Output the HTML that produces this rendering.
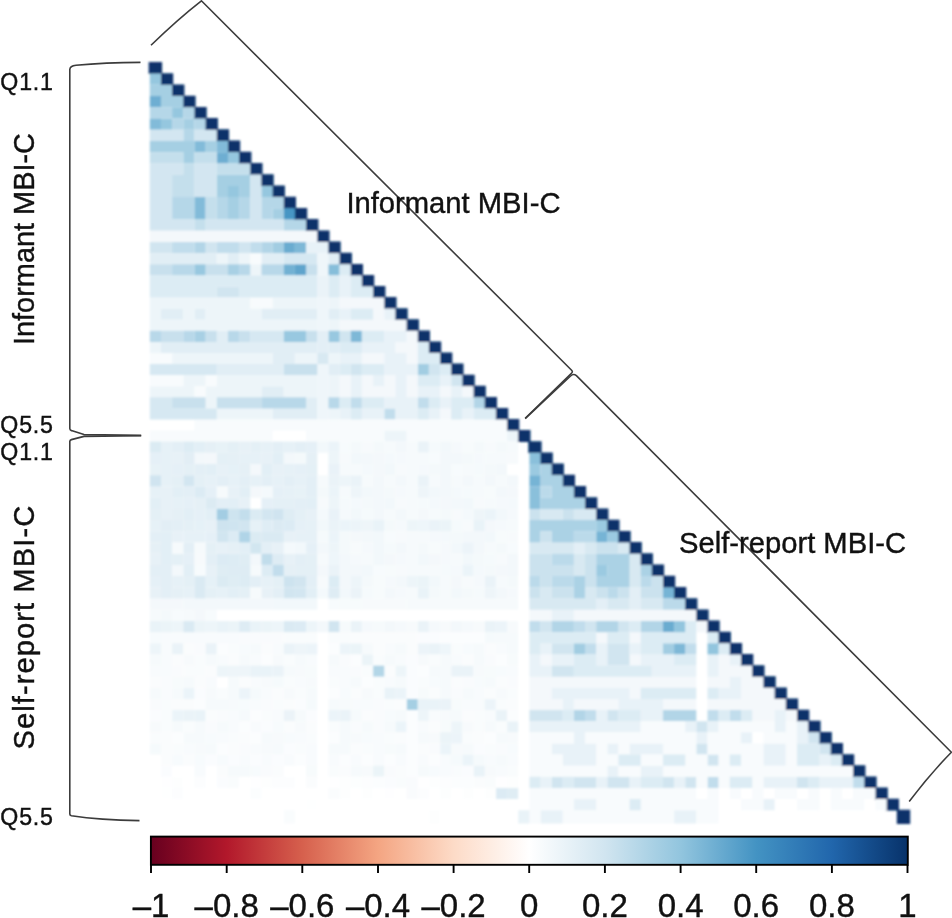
<!DOCTYPE html>
<html><head><meta charset="utf-8"><title>MBI-C correlation matrix</title>
<style>
html,body{margin:0;padding:0;background:#fff;}
body{width:952px;height:918px;overflow:hidden;}
svg{display:block;}
text{font-family:"Liberation Sans",Arial,Helvetica,sans-serif;fill:#111;stroke:#111;stroke-width:0.4px;}
.q{font-size:23.2px;letter-spacing:0.8px;}
.lab{font-size:29.2px;}
.tick{font-size:33px;}
.br{fill:none;stroke:#3c3c3c;stroke-width:1.6;stroke-linejoin:round;stroke-linecap:butt;}
</style></head>
<body>
<svg width="952" height="918" viewBox="0 0 952 918">
<defs>
<linearGradient id="cb" x1="0" x2="1" y1="0" y2="0"><stop offset="0%" stop-color="#67001F"/><stop offset="10%" stop-color="#B2182B"/><stop offset="20%" stop-color="#D6604D"/><stop offset="30%" stop-color="#F4A582"/><stop offset="40%" stop-color="#FDDBC7"/><stop offset="50%" stop-color="#FFFFFF"/><stop offset="60%" stop-color="#D1E5F0"/><stop offset="70%" stop-color="#92C5DE"/><stop offset="80%" stop-color="#4393C3"/><stop offset="90%" stop-color="#2166AC"/><stop offset="100%" stop-color="#07326a"/></linearGradient>
<filter id="soft" x="-2%" y="-2%" width="104%" height="104%"><feGaussianBlur stdDeviation="0.85"/></filter>
</defs>
<rect width="952" height="918" fill="#fff"/>
<g id="heat" filter="url(#soft)">
<path fill="#07326a" d="M148.7 62.0H162.1V74.0H148.7zM159.9 73.2H173.2V85.2H159.9zM171.0 84.4H184.4V96.5H171.0zM182.2 95.7H195.6V107.7H182.2zM193.4 106.9H206.7V118.9H193.4zM204.5 118.1H217.9V130.1H204.5zM215.7 129.3H229.1V141.4H215.7zM226.9 140.6H240.2V152.6H226.9zM238.0 151.8H251.4V163.8H238.0zM249.2 163.0H262.5V175.0H249.2zM260.3 174.2H273.7V186.3H260.3zM271.5 185.5H284.9V197.5H271.5zM282.7 196.7H296.0V208.7H282.7zM293.8 207.9H307.2V219.9H293.8zM305.0 219.1H318.4V231.2H305.0zM316.2 230.4H329.5V242.4H316.2zM327.3 241.6H340.7V253.6H327.3zM338.5 252.8H351.9V264.7H338.5zM349.7 263.9H363.0V275.8H349.7zM360.8 275.0H374.2V286.8H360.8zM372.0 286.0H385.4V297.9H372.0zM383.2 297.1H396.5V309.0H383.2zM394.3 308.2H407.7V320.1H394.3zM405.5 319.3H418.9V331.2H405.5zM416.7 330.4H430.0V342.3H416.7zM427.8 341.5H441.2V353.3H427.8zM439.0 352.5H452.3V364.4H439.0zM450.1 363.6H463.5V375.5H450.1zM461.3 374.7H474.7V386.6H461.3zM472.5 385.8H485.8V397.7H472.5zM483.6 396.9H497.0V408.8H483.6zM494.8 408.0H508.2V419.8H494.8zM506.0 419.0H519.3V430.9H506.0zM517.1 430.1H530.5V442.0H517.1zM528.3 441.2H541.6V453.2H528.3zM539.4 452.4H552.8V464.4H539.4zM550.6 463.6H563.9V475.6H550.6zM561.7 474.8H575.0V486.8H561.7zM572.8 486.0H586.1V498.1H572.8zM583.9 497.3H597.3V509.3H583.9zM595.1 508.5H608.4V520.5H595.1zM606.2 519.7H619.5V531.7H606.2zM617.3 530.9H630.7V542.9H617.3zM628.5 542.1H641.8V554.1H628.5zM639.6 553.3H652.9V565.3H639.6zM650.7 564.5H664.1V576.5H650.7zM661.9 575.7H675.2V587.8H661.9zM673.0 587.0H686.3V599.0H673.0zM684.1 598.2H697.4V610.2H684.1zM695.2 609.4H708.6V621.4H695.2zM706.4 620.6H719.7V632.6H706.4zM717.5 631.8H730.9V643.7H717.5zM728.7 642.9H742.1V654.9H728.7zM739.9 654.1H753.3V666.0H739.9zM751.1 665.2H764.5V677.1H751.1zM762.3 676.3H775.7V688.2H762.3zM773.5 687.4H786.9V699.4H773.5zM784.7 698.6H798.1V710.5H784.7zM795.9 709.7H809.3V721.6H795.9zM807.1 720.8H820.6V732.7H807.1zM818.4 731.9H831.8V743.9H818.4zM829.6 743.1H843.0V755.0H829.6zM840.8 754.2H854.2V766.1H840.8zM852.0 765.3H865.4V777.2H852.0zM863.2 776.4H876.6V788.4H863.2zM874.4 787.6H887.8V799.5H874.4zM885.6 798.7H899.0V810.6H885.6zM896.8 809.8H910.2V824.0H896.8z"/>
<path fill="#95c7df" d="M149.8 73.6H161.0V84.8H149.8zM172.1 107.3H183.3V118.5H172.1zM161.0 118.5H172.1V129.7H161.0zM228.0 152.2H239.1V163.4H228.0zM228.0 185.9H239.1V197.1H228.0zM261.4 185.9H272.6V197.1H261.4z"/>
<path fill="#a5cfe3" d="M149.8 84.8H172.1V96.1H149.8zM161.0 96.1H183.3V107.3H161.0zM183.3 118.5H194.5V129.7H183.3zM149.8 141.0H194.5V152.2H149.8zM205.6 141.0H216.8V152.2H205.6zM183.3 152.2H194.5V163.4H183.3zM216.8 174.6H250.3V185.9H216.8zM216.8 185.9H228.0V197.1H216.8zM239.1 185.9H250.3V197.1H239.1zM228.0 197.1H239.1V208.3H228.0zM228.0 208.3H239.1V219.5H228.0zM272.6 208.3H283.8V219.5H272.6zM406.6 699.0H417.8V710.1H406.6z"/>
<path fill="#6eaed2" d="M149.8 96.1H161.0V107.3H149.8zM216.8 152.2H228.0V163.4H216.8z"/>
<path fill="#b5d7e8" d="M149.8 107.3H172.1V118.5H149.8zM183.3 107.3H194.5V118.5H183.3zM172.1 118.5H183.3V129.7H172.1zM194.5 118.5H205.6V129.7H194.5zM183.3 129.7H194.5V141.0H183.3zM172.1 197.1H194.5V208.3H172.1zM216.8 197.1H228.0V208.3H216.8zM239.1 197.1H250.3V208.3H239.1zM261.4 197.1H283.8V208.3H261.4zM172.1 208.3H194.5V219.5H172.1zM216.8 208.3H228.0V219.5H216.8zM239.1 208.3H250.3V219.5H239.1zM261.4 208.3H272.6V219.5H261.4zM283.8 219.5H306.1V230.8H283.8z"/>
<path fill="#82bbd9" d="M149.8 118.5H161.0V129.7H149.8zM194.5 141.0H205.6V152.2H194.5zM216.8 141.0H228.0V152.2H216.8zM194.5 197.1H205.6V208.3H194.5zM194.5 208.3H205.6V219.5H194.5z"/>
<path fill="#d3e6f1" d="M149.8 129.7H183.3V141.0H149.8zM194.5 129.7H216.8V141.0H194.5zM149.8 163.4H183.3V174.6H149.8zM194.5 163.4H216.8V174.6H194.5zM149.8 174.6H172.1V185.9H149.8zM194.5 174.6H216.8V185.9H194.5zM250.3 174.6H261.4V185.9H250.3zM149.8 185.9H172.1V197.1H149.8zM194.5 185.9H216.8V197.1H194.5zM250.3 185.9H261.4V197.1H250.3zM149.8 197.1H172.1V208.3H149.8zM250.3 197.1H261.4V208.3H250.3zM149.8 208.3H172.1V219.5H149.8zM250.3 208.3H261.4V219.5H250.3zM149.8 219.5H194.5V230.8H149.8zM205.6 219.5H283.8V230.8H205.6zM183.3 475.2H194.5V486.4H183.3zM261.4 508.9H272.6V520.1H261.4zM294.9 587.4H306.1V598.6H294.9z"/>
<path fill="#c4dfec" d="M149.8 152.2H183.3V163.4H149.8zM194.5 152.2H216.8V163.4H194.5zM183.3 163.4H194.5V174.6H183.3zM216.8 163.4H250.3V174.6H216.8zM172.1 174.6H194.5V185.9H172.1zM172.1 185.9H194.5V197.1H172.1zM205.6 197.1H216.8V208.3H205.6zM205.6 208.3H216.8V219.5H205.6zM194.5 219.5H205.6V230.8H194.5z"/>
<path fill="#4796c4" d="M283.8 208.3H294.9V219.5H283.8z"/>
<path fill="#f4f8fb" d="M149.8 230.8H317.3V242.0H149.8zM339.6 297.5H384.3V308.6H339.6zM373.1 308.6H384.3V319.7H373.1zM339.6 319.7H406.6V330.8H339.6zM406.6 330.8H417.8V341.9H406.6zM395.4 341.9H417.8V352.9H395.4zM361.9 352.9H384.3V364.0H361.9zM406.6 352.9H417.8V364.0H406.6zM339.6 375.1H350.8V386.2H339.6zM361.9 375.1H373.1V386.2H361.9zM384.3 375.1H395.4V386.2H384.3zM406.6 375.1H417.8V386.2H406.6zM339.6 386.2H350.8V397.3H339.6zM361.9 386.2H395.4V397.3H361.9zM406.6 386.2H417.8V397.3H406.6zM440.1 386.2H451.2V397.3H440.1zM462.4 386.2H473.6V397.3H462.4zM440.1 408.4H451.2V419.4H440.1zM205.6 452.8H216.8V464.0H205.6zM373.1 452.8H384.3V464.0H373.1zM250.3 464.0H261.4V475.2H250.3zM373.1 464.0H384.3V475.2H373.1zM250.3 486.4H261.4V497.7H250.3zM507.1 486.4H518.2V497.7H507.1zM440.1 497.7H451.2V508.9H440.1zM417.8 508.9H428.9V520.1H417.8zM484.7 520.1H495.9V531.3H484.7zM350.8 531.3H361.9V542.5H350.8zM384.3 553.7H395.4V564.9H384.3zM428.9 553.7H440.1V564.9H428.9zM317.3 564.9H328.4V576.1H317.3zM495.9 564.9H507.1V576.1H495.9zM451.2 576.1H462.4V587.4H451.2zM149.8 598.6H183.3V609.8H149.8zM194.5 609.8H205.6V621.0H194.5zM529.4 609.8H551.7V621.0H529.4zM573.9 609.8H696.3V621.0H573.9zM696.3 621.0H707.5V632.2H696.3zM596.2 632.2H607.3V643.3H596.2zM629.6 632.2H640.7V643.3H629.6zM540.5 654.5H551.7V665.6H540.5zM629.6 654.5H640.7V665.6H629.6zM718.6 654.5H729.8V665.6H718.6zM718.6 665.6H752.2V676.7H718.6zM529.4 676.7H696.3V687.8H529.4zM707.5 676.7H729.8V687.8H707.5zM741.0 676.7H763.4V687.8H741.0zM529.4 687.8H551.7V699.0H529.4zM629.6 687.8H640.7V699.0H629.6zM741.0 687.8H774.6V699.0H741.0zM529.4 699.0H562.8V710.1H529.4zM573.9 699.0H618.4V710.1H573.9zM663.0 699.0H696.3V710.1H663.0zM707.5 699.0H785.8V710.1H707.5zM752.2 710.1H774.6V721.2H752.2zM785.8 710.1H797.0V721.2H785.8z"/>
<path fill="#d1e5f0" d="M149.8 242.0H172.1V253.2H149.8zM205.6 242.0H216.8V253.2H205.6zM239.1 242.0H250.3V253.2H239.1zM216.8 286.4H239.1V297.5H216.8zM339.6 330.8H350.8V341.9H339.6zM350.8 364.0H361.9V375.1H350.8zM428.9 364.0H440.1V375.1H428.9zM451.2 375.1H462.4V386.2H451.2zM239.1 520.1H250.3V531.3H239.1zM216.8 531.3H228.0V542.5H216.8zM283.8 587.4H294.9V598.6H283.8zM328.4 621.0H339.6V632.2H328.4zM540.5 621.0H551.7V632.2H540.5zM585.0 621.0H596.2V632.2H585.0zM618.4 621.0H629.6V632.2H618.4zM551.7 643.3H573.9V654.5H551.7zM607.3 643.3H629.6V654.5H607.3zM607.3 654.5H629.6V665.6H607.3zM551.7 665.6H573.9V676.7H551.7zM529.4 710.1H562.8V721.2H529.4zM607.3 710.1H618.4V721.2H607.3zM696.3 721.2H707.5V732.3H696.3zM808.2 732.3H819.5V743.5H808.2zM696.3 743.5H707.5V754.6H696.3zM819.5 743.5H830.7V754.6H819.5zM707.5 754.6H718.6V765.7H707.5zM551.7 776.8H562.8V788.0H551.7zM573.9 776.8H596.2V788.0H573.9zM607.3 776.8H629.6V788.0H607.3zM663.0 776.8H674.1V788.0H663.0zM685.2 776.8H696.3V788.0H685.2zM797.0 776.8H808.2V788.0H797.0z"/>
<path fill="#c1ddec" d="M172.1 242.0H194.5V253.2H172.1zM216.8 242.0H239.1V253.2H216.8zM250.3 242.0H261.4V253.2H250.3zM350.8 397.3H361.9V408.4H350.8zM417.8 397.3H428.9V408.4H417.8zM384.3 408.4H395.4V419.4H384.3zM529.4 621.0H540.5V632.2H529.4zM573.9 621.0H585.0V632.2H573.9zM585.0 643.3H596.2V654.5H585.0zM685.2 643.3H696.3V654.5H685.2zM585.0 710.1H596.2V721.2H585.0zM707.5 710.1H718.6V721.2H707.5zM729.8 710.1H741.0V721.2H729.8zM707.5 776.8H718.6V788.0H707.5zM853.1 776.8H864.3V788.0H853.1z"/>
<path fill="#b2d5e7" d="M194.5 242.0H205.6V253.2H194.5zM261.4 242.0H272.6V253.2H261.4zM473.6 397.3H484.7V408.4H473.6zM551.7 621.0H573.9V632.2H551.7zM596.2 621.0H618.4V632.2H596.2zM640.7 621.0H663.0V632.2H640.7zM573.9 710.1H585.0V721.2H573.9zM663.0 710.1H696.3V721.2H663.0z"/>
<path fill="#a2cde2" d="M272.6 242.0H283.8V253.2H272.6zM417.8 364.0H428.9V375.1H417.8zM573.9 643.3H585.0V654.5H573.9zM663.0 643.3H674.1V654.5H663.0z"/>
<path fill="#6aacd0" d="M283.8 242.0H294.9V253.2H283.8zM663.0 621.0H674.1V632.2H663.0z"/>
<path fill="#7eb8d7" d="M294.9 242.0H306.1V253.2H294.9zM350.8 330.8H361.9V341.9H350.8zM674.1 643.3H685.2V654.5H674.1z"/>
<path fill="#e8f2f8" d="M306.1 242.0H328.4V253.2H306.1zM339.6 275.4H350.8V286.4H339.6zM339.6 286.4H350.8V297.5H339.6zM339.6 308.6H350.8V319.7H339.6zM384.3 308.6H395.4V319.7H384.3zM384.3 330.8H406.6V341.9H384.3zM361.9 341.9H395.4V352.9H361.9zM339.6 352.9H361.9V364.0H339.6zM384.3 352.9H406.6V364.0H384.3zM384.3 364.0H417.8V375.1H384.3zM350.8 375.1H361.9V386.2H350.8zM373.1 375.1H384.3V386.2H373.1zM395.4 375.1H406.6V386.2H395.4zM440.1 375.1H451.2V386.2H440.1zM350.8 386.2H361.9V397.3H350.8zM395.4 386.2H406.6V397.3H395.4zM417.8 386.2H440.1V397.3H417.8zM451.2 386.2H462.4V397.3H451.2zM384.3 397.3H417.8V408.4H384.3zM440.1 397.3H451.2V408.4H440.1zM339.6 408.4H350.8V419.4H339.6zM361.9 408.4H384.3V419.4H361.9zM395.4 408.4H417.8V419.4H395.4zM428.9 408.4H440.1V419.4H428.9zM462.4 408.4H473.6V419.4H462.4zM551.7 609.8H573.9V621.0H551.7zM540.5 643.3H551.7V654.5H540.5zM596.2 643.3H607.3V654.5H596.2zM629.6 643.3H640.7V654.5H629.6zM529.4 654.5H540.5V665.6H529.4zM551.7 654.5H573.9V665.6H551.7zM596.2 654.5H607.3V665.6H596.2zM640.7 654.5H674.1V665.6H640.7zM707.5 654.5H718.6V665.6H707.5zM729.8 654.5H741.0V665.6H729.8zM529.4 665.6H551.7V676.7H529.4zM651.8 665.6H696.3V676.7H651.8zM707.5 665.6H718.6V676.7H707.5zM729.8 676.7H741.0V687.8H729.8zM551.7 687.8H629.6V699.0H551.7zM718.6 687.8H741.0V699.0H718.6zM562.8 699.0H573.9V710.1H562.8zM618.4 699.0H663.0V710.1H618.4zM596.2 710.1H607.3V721.2H596.2zM640.7 710.1H663.0V721.2H640.7zM774.6 710.1H785.8V721.2H774.6zM529.4 721.2H640.7V732.3H529.4zM685.2 721.2H696.3V732.3H685.2zM707.5 721.2H718.6V732.3H707.5zM774.6 721.2H785.8V732.3H774.6zM797.0 721.2H808.2V732.3H797.0zM573.9 732.3H585.0V743.5H573.9zM696.3 732.3H707.5V743.5H696.3zM741.0 732.3H752.2V743.5H741.0zM797.0 732.3H808.2V743.5H797.0zM551.7 743.5H596.2V754.6H551.7zM607.3 743.5H618.4V754.6H607.3zM629.6 743.5H663.0V754.6H629.6zM763.4 743.5H785.8V754.6H763.4zM562.8 754.6H596.2V765.7H562.8zM763.4 754.6H785.8V765.7H763.4zM819.5 754.6H830.7V765.7H819.5zM607.3 765.7H618.4V776.8H607.3zM640.7 765.7H663.0V776.8H640.7zM540.5 776.8H551.7V788.0H540.5zM596.2 776.8H607.3V788.0H596.2zM629.6 776.8H640.7V788.0H629.6zM674.1 776.8H685.2V788.0H674.1zM763.4 776.8H797.0V788.0H763.4zM819.5 776.8H853.1V788.0H819.5zM573.9 799.1H596.2V810.2H573.9zM763.4 799.1H774.6V810.2H763.4zM540.5 810.2H562.8V823.6H540.5zM674.1 810.2H696.3V823.6H674.1z"/>
<path fill="#e1eef5" d="M149.8 253.2H216.8V264.3H149.8zM228.0 253.2H239.1V264.3H228.0zM261.4 253.2H283.8V264.3H261.4zM328.4 253.2H339.6V264.3H328.4zM161.0 308.6H183.3V319.7H161.0zM194.5 308.6H205.6V319.7H194.5zM261.4 308.6H317.3V319.7H261.4zM328.4 308.6H339.6V319.7H328.4zM216.8 330.8H228.0V341.9H216.8zM161.0 341.9H317.3V352.9H161.0zM328.4 341.9H339.6V352.9H328.4zM272.6 352.9H294.9V364.0H272.6zM216.8 364.0H283.8V375.1H216.8zM328.4 364.0H339.6V375.1H328.4zM261.4 386.2H283.8V397.3H261.4zM306.1 397.3H317.3V408.4H306.1zM272.6 408.4H317.3V419.4H272.6z"/>
<path fill="#edf5f9" d="M216.8 253.2H228.0V264.3H216.8zM239.1 253.2H250.3V264.3H239.1zM250.3 264.3H261.4V275.4H250.3zM149.8 297.5H250.3V308.6H149.8zM272.6 297.5H317.3V308.6H272.6zM328.4 297.5H339.6V308.6H328.4zM149.8 308.6H161.0V319.7H149.8zM183.3 308.6H194.5V319.7H183.3zM205.6 308.6H261.4V319.7H205.6zM149.8 319.7H317.3V330.8H149.8zM328.4 319.7H339.6V330.8H328.4zM149.8 341.9H161.0V352.9H149.8zM172.1 352.9H272.6V364.0H172.1zM294.9 352.9H317.3V364.0H294.9zM328.4 352.9H339.6V364.0H328.4zM183.3 375.1H205.6V386.2H183.3zM216.8 375.1H317.3V386.2H216.8zM328.4 375.1H339.6V386.2H328.4zM149.8 386.2H194.5V397.3H149.8zM205.6 386.2H261.4V397.3H205.6zM283.8 386.2H317.3V397.3H283.8zM328.4 386.2H339.6V397.3H328.4zM205.6 397.3H216.8V408.4H205.6zM216.8 408.4H272.6V419.4H216.8zM328.4 408.4H339.6V419.4H328.4zM384.3 430.5H406.6V441.6H384.3zM507.1 430.5H518.2V441.6H507.1zM328.4 452.8H339.6V464.0H328.4zM339.6 475.2H350.8V486.4H339.6zM328.4 497.7H339.6V508.9H328.4zM406.6 520.1H417.8V531.3H406.6zM328.4 542.5H339.6V553.7H328.4zM350.8 576.1H361.9V587.4H350.8zM406.6 576.1H417.8V587.4H406.6zM172.1 621.0H183.3V632.2H172.1zM205.6 621.0H216.8V632.2H205.6zM272.6 621.0H283.8V632.2H272.6zM306.1 621.0H317.3V632.2H306.1zM149.8 643.3H161.0V654.5H149.8zM216.8 665.6H228.0V676.7H216.8zM395.4 665.6H406.6V676.7H395.4zM417.8 710.1H428.9V721.2H417.8zM451.2 721.2H462.4V732.3H451.2z"/>
<path fill="#f8fbfd" d="M250.3 253.2H261.4V264.3H250.3zM250.3 297.5H272.6V308.6H250.3zM149.8 352.9H172.1V364.0H149.8zM149.8 375.1H183.3V386.2H149.8zM205.6 375.1H216.8V386.2H205.6zM194.5 386.2H205.6V397.3H194.5zM194.5 419.4H507.1V430.5H194.5zM149.8 430.5H272.6V441.6H149.8zM306.1 430.5H384.3V441.6H306.1zM406.6 430.5H507.1V441.6H406.6zM161.0 632.2H183.3V643.3H161.0zM183.3 632.2H194.5V643.3H183.3zM194.5 632.2H216.8V643.3H194.5zM216.8 632.2H239.1V643.3H216.8zM161.0 643.3H172.1V654.5H161.0zM272.6 643.3H283.8V654.5H272.6zM384.3 643.3H395.4V654.5H384.3zM495.9 643.3H507.1V654.5H495.9zM161.0 654.5H172.1V665.6H161.0zM216.8 654.5H228.0V665.6H216.8zM250.3 654.5H261.4V665.6H250.3zM306.1 654.5H317.3V665.6H306.1zM395.4 654.5H406.6V665.6H395.4zM451.2 654.5H462.4V665.6H451.2zM149.8 665.6H161.0V676.7H149.8zM161.0 665.6H172.1V676.7H161.0zM328.4 665.6H339.6V676.7H328.4zM339.6 665.6H350.8V676.7H339.6zM507.1 665.6H518.2V676.7H507.1zM205.6 676.7H216.8V687.8H205.6zM250.3 676.7H261.4V687.8H250.3zM294.9 676.7H306.1V687.8H294.9zM339.6 676.7H350.8V687.8H339.6zM384.3 676.7H395.4V687.8H384.3zM261.4 687.8H272.6V699.0H261.4zM473.6 687.8H484.7V699.0H473.6zM250.3 699.0H261.4V710.1H250.3zM350.8 699.0H361.9V710.1H350.8zM361.9 699.0H373.1V710.1H361.9zM462.4 699.0H473.6V710.1H462.4zM473.6 699.0H484.7V710.1H473.6zM228.0 710.1H239.1V721.2H228.0zM272.6 710.1H283.8V721.2H272.6zM428.9 710.1H440.1V721.2H428.9zM484.7 710.1H495.9V721.2H484.7zM228.0 721.2H239.1V732.3H228.0zM250.3 721.2H261.4V732.3H250.3zM417.8 721.2H428.9V732.3H417.8zM640.7 721.2H685.2V732.3H640.7zM718.6 721.2H774.6V732.3H718.6zM785.8 721.2H797.0V732.3H785.8zM216.8 732.3H228.0V743.5H216.8zM294.9 732.3H306.1V743.5H294.9zM373.1 732.3H384.3V743.5H373.1zM529.4 732.3H573.9V743.5H529.4zM585.0 732.3H696.3V743.5H585.0zM707.5 732.3H741.0V743.5H707.5zM763.4 732.3H797.0V743.5H763.4zM183.3 743.5H194.5V754.6H183.3zM250.3 743.5H261.4V754.6H250.3zM306.1 743.5H317.3V754.6H306.1zM373.1 743.5H384.3V754.6H373.1zM529.4 743.5H551.7V754.6H529.4zM596.2 743.5H607.3V754.6H596.2zM618.4 743.5H629.6V754.6H618.4zM663.0 743.5H696.3V754.6H663.0zM707.5 743.5H763.4V754.6H707.5zM785.8 743.5H797.0V754.6H785.8zM239.1 754.6H250.3V765.7H239.1zM261.4 754.6H272.6V765.7H261.4zM283.8 754.6H294.9V765.7H283.8zM306.1 754.6H317.3V765.7H306.1zM328.4 754.6H339.6V765.7H328.4zM350.8 754.6H361.9V765.7H350.8zM373.1 754.6H384.3V765.7H373.1zM395.4 754.6H406.6V765.7H395.4zM417.8 754.6H428.9V765.7H417.8zM440.1 754.6H451.2V765.7H440.1zM484.7 754.6H495.9V765.7H484.7zM507.1 754.6H518.2V765.7H507.1zM529.4 754.6H562.8V765.7H529.4zM596.2 754.6H618.4V765.7H596.2zM640.7 754.6H663.0V765.7H640.7zM685.2 754.6H707.5V765.7H685.2zM718.6 754.6H729.8V765.7H718.6zM741.0 754.6H763.4V765.7H741.0zM785.8 754.6H797.0V765.7H785.8zM194.5 765.7H205.6V776.8H194.5zM440.1 765.7H451.2V776.8H440.1zM495.9 765.7H507.1V776.8H495.9zM529.4 765.7H607.3V776.8H529.4zM618.4 765.7H640.7V776.8H618.4zM663.0 765.7H853.1V776.8H663.0zM696.3 776.8H707.5V788.0H696.3zM718.6 776.8H729.8V788.0H718.6zM752.2 776.8H763.4V788.0H752.2zM529.4 788.0H696.3V799.1H529.4zM707.5 788.0H718.6V799.1H707.5zM729.8 788.0H741.0V799.1H729.8zM752.2 788.0H763.4V799.1H752.2zM774.6 788.0H797.0V799.1H774.6zM808.2 788.0H819.5V799.1H808.2zM830.7 788.0H841.9V799.1H830.7zM853.1 788.0H875.5V799.1H853.1zM529.4 799.1H573.9V810.2H529.4zM596.2 799.1H629.6V810.2H596.2zM640.7 799.1H718.6V810.2H640.7zM741.0 799.1H763.4V810.2H741.0zM797.0 799.1H819.5V810.2H797.0zM830.7 799.1H864.3V810.2H830.7zM875.5 799.1H886.7V810.2H875.5zM529.4 810.2H540.5V823.6H529.4zM562.8 810.2H674.1V823.6H562.8zM696.3 810.2H718.6V823.6H696.3z"/>
<path fill="#d6e8f2" d="M283.8 253.2H317.3V264.3H283.8zM250.3 330.8H283.8V341.9H250.3zM149.8 364.0H216.8V375.1H149.8zM149.8 397.3H172.1V408.4H149.8zM149.8 408.4H216.8V419.4H149.8z"/>
<path fill="#eff6fa" d="M317.3 253.2H328.4V264.3H317.3zM317.3 264.3H328.4V275.4H317.3zM317.3 297.5H328.4V308.6H317.3zM317.3 308.6H328.4V319.7H317.3zM317.3 319.7H328.4V330.8H317.3zM317.3 364.0H328.4V375.1H317.3zM317.3 375.1H328.4V386.2H317.3zM317.3 386.2H328.4V397.3H317.3zM317.3 397.3H328.4V408.4H317.3zM317.3 408.4H328.4V419.4H317.3z"/>
<path fill="#c8e0ed" d="M149.8 264.3H172.1V275.4H149.8zM205.6 264.3H228.0V275.4H205.6zM306.1 264.3H317.3V275.4H306.1zM161.0 330.8H183.3V341.9H161.0zM205.6 330.8H216.8V341.9H205.6zM239.1 330.8H250.3V341.9H239.1zM306.1 330.8H317.3V341.9H306.1zM283.8 364.0H317.3V375.1H283.8zM172.1 397.3H205.6V408.4H172.1zM216.8 397.3H261.4V408.4H216.8z"/>
<path fill="#b8d8e9" d="M172.1 264.3H194.5V275.4H172.1zM239.1 264.3H250.3V275.4H239.1zM261.4 264.3H283.8V275.4H261.4zM149.8 330.8H161.0V341.9H149.8zM183.3 330.8H194.5V341.9H183.3zM228.0 330.8H239.1V341.9H228.0zM261.4 397.3H306.1V408.4H261.4zM328.4 397.3H339.6V408.4H328.4z"/>
<path fill="#98c8e0" d="M194.5 264.3H205.6V275.4H194.5zM283.8 330.8H306.1V341.9H283.8zM328.4 330.8H339.6V341.9H328.4z"/>
<path fill="#a8d0e4" d="M228.0 264.3H239.1V275.4H228.0zM194.5 330.8H205.6V341.9H194.5z"/>
<path fill="#72b1d3" d="M283.8 264.3H294.9V275.4H283.8z"/>
<path fill="#5fa4cc" d="M294.9 264.3H306.1V275.4H294.9z"/>
<path fill="#86beda" d="M328.4 264.3H339.6V275.4H328.4z"/>
<path fill="#dcecf4" d="M339.6 264.3H350.8V275.4H339.6zM149.8 275.4H317.3V286.4H149.8zM328.4 275.4H339.6V286.4H328.4zM350.8 275.4H361.9V286.4H350.8zM149.8 286.4H216.8V297.5H149.8zM239.1 286.4H317.3V297.5H239.1zM328.4 286.4H339.6V297.5H328.4zM350.8 286.4H373.1V297.5H350.8zM350.8 308.6H373.1V319.7H350.8zM361.9 330.8H384.3V341.9H361.9zM339.6 341.9H361.9V352.9H339.6zM417.8 341.9H428.9V352.9H417.8zM417.8 352.9H440.1V364.0H417.8zM339.6 364.0H350.8V375.1H339.6zM361.9 364.0H384.3V375.1H361.9zM440.1 364.0H451.2V375.1H440.1zM417.8 375.1H440.1V386.2H417.8zM339.6 397.3H350.8V408.4H339.6zM361.9 397.3H384.3V408.4H361.9zM428.9 397.3H440.1V408.4H428.9zM451.2 397.3H473.6V408.4H451.2zM350.8 408.4H361.9V419.4H350.8zM417.8 408.4H428.9V419.4H417.8zM451.2 408.4H462.4V419.4H451.2zM473.6 408.4H495.9V419.4H473.6zM328.4 576.1H339.6V587.4H328.4zM629.6 621.0H640.7V632.2H629.6zM685.2 621.0H696.3V632.2H685.2zM529.4 632.2H596.2V643.3H529.4zM607.3 632.2H629.6V643.3H607.3zM640.7 632.2H696.3V643.3H640.7zM707.5 632.2H718.6V643.3H707.5zM529.4 643.3H540.5V654.5H529.4zM640.7 643.3H663.0V654.5H640.7zM718.6 643.3H729.8V654.5H718.6zM573.9 654.5H596.2V665.6H573.9zM674.1 654.5H696.3V665.6H674.1zM573.9 665.6H651.8V676.7H573.9zM640.7 687.8H696.3V699.0H640.7zM707.5 687.8H718.6V699.0H707.5zM562.8 710.1H573.9V721.2H562.8zM618.4 710.1H640.7V721.2H618.4zM718.6 710.1H729.8V721.2H718.6zM741.0 710.1H752.2V721.2H741.0zM797.0 743.5H819.5V754.6H797.0zM618.4 754.6H640.7V765.7H618.4zM663.0 754.6H685.2V765.7H663.0zM729.8 754.6H741.0V765.7H729.8zM797.0 754.6H819.5V765.7H797.0zM830.7 754.6H841.9V765.7H830.7zM529.4 776.8H540.5V788.0H529.4zM562.8 776.8H573.9V788.0H562.8zM640.7 776.8H663.0V788.0H640.7zM729.8 776.8H752.2V788.0H729.8zM808.2 776.8H819.5V788.0H808.2zM629.6 799.1H640.7V810.2H629.6z"/>
<path fill="#eaf3f8" d="M317.3 275.4H328.4V286.4H317.3zM317.3 286.4H328.4V297.5H317.3zM417.8 441.6H428.9V452.8H417.8zM328.4 475.2H339.6V486.4H328.4zM350.8 475.2H361.9V486.4H350.8zM417.8 475.2H428.9V486.4H417.8zM328.4 520.1H339.6V531.3H328.4zM428.9 520.1H440.1V531.3H428.9zM328.4 564.9H339.6V576.1H328.4zM484.7 576.1H495.9V587.4H484.7zM350.8 621.0H361.9V632.2H350.8zM417.8 621.0H428.9V632.2H417.8zM484.7 621.0H495.9V632.2H484.7zM172.1 643.3H183.3V654.5H172.1zM205.6 643.3H216.8V654.5H205.6zM283.8 643.3H294.9V654.5H283.8zM428.9 643.3H440.1V654.5H428.9zM272.6 665.6H283.8V676.7H272.6zM451.2 665.6H462.4V676.7H451.2zM462.4 665.6H473.6V676.7H462.4zM440.1 699.0H451.2V710.1H440.1zM183.3 710.1H194.5V721.2H183.3zM339.6 710.1H350.8V721.2H339.6zM495.9 710.1H507.1V721.2H495.9z"/>
<path fill="#e3eff6" d="M317.3 330.8H328.4V341.9H317.3zM317.3 341.9H328.4V352.9H317.3zM172.1 441.6H183.3V452.8H172.1zM272.6 441.6H283.8V452.8H272.6zM294.9 441.6H306.1V452.8H294.9zM194.5 464.0H205.6V475.2H194.5zM216.8 475.2H228.0V486.4H216.8zM239.1 475.2H250.3V486.4H239.1zM261.4 475.2H272.6V486.4H261.4zM283.8 475.2H294.9V486.4H283.8zM306.1 475.2H317.3V486.4H306.1zM183.3 486.4H194.5V497.7H183.3zM306.1 486.4H317.3V497.7H306.1zM216.8 497.7H228.0V508.9H216.8zM294.9 497.7H306.1V508.9H294.9zM172.1 520.1H183.3V531.3H172.1zM149.8 531.3H161.0V542.5H149.8zM183.3 542.5H194.5V553.7H183.3zM261.4 542.5H272.6V553.7H261.4zM573.9 542.5H585.0V553.7H573.9zM205.6 553.7H216.8V564.9H205.6zM294.9 553.7H306.1V564.9H294.9zM149.8 564.9H161.0V576.1H149.8zM161.0 564.9H172.1V576.1H161.0zM161.0 576.1H172.1V587.4H161.0zM250.3 576.1H261.4V587.4H250.3zM306.1 576.1H317.3V587.4H306.1zM161.0 587.4H172.1V598.6H161.0zM272.6 587.4H283.8V598.6H272.6zM629.6 587.4H640.7V598.6H629.6zM596.2 598.6H607.3V609.8H596.2zM629.6 598.6H640.7V609.8H629.6z"/>
<path fill="#d8e9f2" d="M317.3 352.9H328.4V364.0H317.3zM540.5 508.9H562.8V520.1H540.5zM573.9 508.9H596.2V520.1H573.9zM529.4 542.5H573.9V553.7H529.4zM585.0 542.5H596.2V553.7H585.0zM618.4 542.5H629.6V553.7H618.4zM573.9 553.7H585.0V564.9H573.9zM629.6 553.7H640.7V564.9H629.6zM573.9 564.9H585.0V576.1H573.9zM629.6 564.9H640.7V576.1H629.6zM629.6 576.1H640.7V587.4H629.6zM540.5 587.4H551.7V598.6H540.5zM585.0 587.4H596.2V598.6H585.0zM529.4 598.6H596.2V609.8H529.4zM607.3 598.6H629.6V609.8H607.3zM640.7 598.6H663.0V609.8H640.7z"/>
<path fill="#dbebf3" d="M149.8 441.6H161.0V452.8H149.8zM250.3 508.9H261.4V520.1H250.3zM250.3 531.3H261.4V542.5H250.3zM216.8 576.1H228.0V587.4H216.8z"/>
<path fill="#e6f1f7" d="M161.0 441.6H172.1V452.8H161.0zM261.4 441.6H272.6V452.8H261.4zM283.8 441.6H294.9V452.8H283.8zM161.0 452.8H172.1V464.0H161.0zM239.1 452.8H250.3V464.0H239.1zM250.3 452.8H261.4V464.0H250.3zM161.0 464.0H172.1V475.2H161.0zM283.8 464.0H294.9V475.2H283.8zM161.0 475.2H172.1V486.4H161.0zM205.6 475.2H216.8V486.4H205.6zM228.0 475.2H239.1V486.4H228.0zM250.3 475.2H261.4V486.4H250.3zM272.6 475.2H283.8V486.4H272.6zM294.9 475.2H306.1V486.4H294.9zM149.8 486.4H161.0V497.7H149.8zM283.8 486.4H294.9V497.7H283.8zM172.1 497.7H183.3V508.9H172.1zM149.8 520.1H161.0V531.3H149.8zM250.3 520.1H261.4V531.3H250.3zM306.1 520.1H317.3V531.3H306.1zM183.3 531.3H194.5V542.5H183.3zM194.5 531.3H205.6V542.5H194.5zM294.9 531.3H306.1V542.5H294.9zM306.1 531.3H317.3V542.5H306.1zM172.1 576.1H183.3V587.4H172.1zM261.4 576.1H272.6V587.4H261.4zM183.3 587.4H194.5V598.6H183.3zM216.8 587.4H228.0V598.6H216.8z"/>
<path fill="#ddecf4" d="M183.3 441.6H194.5V452.8H183.3zM228.0 553.7H239.1V564.9H228.0zM261.4 564.9H272.6V576.1H261.4zM239.1 576.1H250.3V587.4H239.1z"/>
<path fill="#e2eff6" d="M194.5 441.6H205.6V452.8H194.5zM272.6 452.8H283.8V464.0H272.6zM205.6 464.0H216.8V475.2H205.6zM261.4 464.0H272.6V475.2H261.4zM172.1 486.4H183.3V497.7H172.1zM239.1 486.4H250.3V497.7H239.1zM149.8 497.7H161.0V508.9H149.8zM228.0 497.7H239.1V508.9H228.0zM306.1 497.7H317.3V508.9H306.1zM183.3 508.9H194.5V520.1H183.3zM205.6 508.9H216.8V520.1H205.6zM161.0 531.3H172.1V542.5H161.0zM161.0 542.5H172.1V553.7H161.0zM239.1 542.5H250.3V553.7H239.1zM161.0 553.7H172.1V564.9H161.0zM183.3 564.9H194.5V576.1H183.3zM228.0 587.4H239.1V598.6H228.0zM306.1 587.4H317.3V598.6H306.1z"/>
<path fill="#e5f0f6" d="M205.6 441.6H216.8V452.8H205.6zM228.0 452.8H239.1V464.0H228.0zM306.1 452.8H317.3V464.0H306.1zM239.1 464.0H250.3V475.2H239.1zM194.5 497.7H205.6V508.9H194.5zM172.1 508.9H183.3V520.1H172.1zM149.8 542.5H161.0V553.7H149.8zM228.0 542.5H239.1V553.7H228.0zM283.8 564.9H294.9V576.1H283.8zM172.1 587.4H183.3V598.6H172.1z"/>
<path fill="#e7f2f7" d="M216.8 441.6H228.0V452.8H216.8zM149.8 464.0H161.0V475.2H149.8zM294.9 486.4H306.1V497.7H294.9z"/>
<path fill="#e4f0f6" d="M228.0 441.6H239.1V452.8H228.0zM250.3 441.6H261.4V452.8H250.3zM216.8 452.8H228.0V464.0H216.8zM183.3 464.0H194.5V475.2H183.3zM306.1 464.0H317.3V475.2H306.1zM172.1 475.2H183.3V486.4H172.1zM194.5 475.2H205.6V486.4H194.5zM272.6 497.7H283.8V508.9H272.6zM283.8 497.7H294.9V508.9H283.8zM149.8 508.9H161.0V520.1H149.8zM294.9 508.9H306.1V520.1H294.9zM183.3 520.1H194.5V531.3H183.3zM205.6 542.5H216.8V553.7H205.6zM172.1 553.7H183.3V564.9H172.1zM306.1 553.7H317.3V564.9H306.1zM294.9 564.9H306.1V576.1H294.9zM306.1 564.9H317.3V576.1H306.1zM183.3 576.1H194.5V587.4H183.3zM272.6 576.1H283.8V587.4H272.6zM205.6 587.4H216.8V598.6H205.6zM239.1 587.4H250.3V598.6H239.1z"/>
<path fill="#e7f1f7" d="M239.1 441.6H250.3V452.8H239.1zM172.1 452.8H183.3V464.0H172.1zM261.4 452.8H272.6V464.0H261.4zM216.8 464.0H228.0V475.2H216.8zM272.6 464.0H283.8V475.2H272.6zM161.0 486.4H172.1V497.7H161.0zM228.0 486.4H239.1V497.7H228.0zM161.0 497.7H172.1V508.9H161.0zM239.1 497.7H250.3V508.9H239.1zM161.0 508.9H172.1V520.1H161.0zM306.1 508.9H317.3V520.1H306.1zM205.6 520.1H216.8V531.3H205.6zM172.1 531.3H183.3V542.5H172.1zM283.8 531.3H294.9V542.5H283.8zM216.8 542.5H228.0V553.7H216.8zM272.6 542.5H283.8V553.7H272.6zM149.8 553.7H161.0V564.9H149.8zM283.8 553.7H294.9V564.9H283.8zM205.6 564.9H216.8V576.1H205.6zM149.8 587.4H161.0V598.6H149.8zM261.4 587.4H272.6V598.6H261.4z"/>
<path fill="#e5f0f7" d="M306.1 441.6H317.3V452.8H306.1zM149.8 452.8H161.0V464.0H149.8zM172.1 464.0H183.3V475.2H172.1zM294.9 464.0H306.1V475.2H294.9zM205.6 486.4H216.8V497.7H205.6zM272.6 486.4H283.8V497.7H272.6zM183.3 497.7H194.5V508.9H183.3zM261.4 497.7H272.6V508.9H261.4zM194.5 508.9H205.6V520.1H194.5zM294.9 520.1H306.1V531.3H294.9zM205.6 531.3H216.8V542.5H205.6zM306.1 542.5H317.3V553.7H306.1zM183.3 553.7H194.5V564.9H183.3zM149.8 576.1H161.0V587.4H149.8z"/>
<path fill="#f2f8fb" d="M317.3 441.6H328.4V452.8H317.3zM440.1 441.6H451.2V452.8H440.1zM350.8 452.8H361.9V464.0H350.8zM384.3 464.0H395.4V475.2H384.3zM361.9 486.4H373.1V497.7H361.9zM428.9 486.4H440.1V497.7H428.9zM384.3 497.7H395.4V508.9H384.3zM462.4 497.7H473.6V508.9H462.4zM350.8 508.9H361.9V520.1H350.8zM495.9 508.9H507.1V520.1H495.9zM317.3 520.1H328.4V531.3H317.3zM373.1 531.3H384.3V542.5H373.1zM484.7 531.3H495.9V542.5H484.7zM294.9 542.5H306.1V553.7H294.9zM373.1 542.5H384.3V553.7H373.1zM451.2 542.5H462.4V553.7H451.2zM373.1 553.7H384.3V564.9H373.1zM417.8 553.7H428.9V564.9H417.8zM462.4 553.7H473.6V564.9H462.4zM361.9 564.9H373.1V576.1H361.9zM428.9 576.1H440.1V587.4H428.9zM339.6 587.4H350.8V598.6H339.6zM451.2 587.4H462.4V598.6H451.2zM272.6 598.6H283.8V609.8H272.6zM283.8 598.6H317.3V609.8H283.8z"/>
<path fill="#ebf4f9" d="M328.4 441.6H339.6V452.8H328.4zM328.4 486.4H339.6V497.7H328.4zM484.7 508.9H495.9V520.1H484.7zM339.6 520.1H350.8V531.3H339.6zM328.4 531.3H339.6V542.5H328.4zM462.4 564.9H473.6V576.1H462.4zM183.3 687.8H194.5V699.0H183.3zM395.4 687.8H406.6V699.0H395.4zM172.1 710.1H183.3V721.2H172.1zM328.4 710.1H339.6V721.2H328.4zM395.4 721.2H406.6V732.3H395.4zM440.1 743.5H451.2V754.6H440.1zM462.4 754.6H473.6V765.7H462.4z"/>
<path fill="#f7fbfd" d="M339.6 441.6H350.8V452.8H339.6zM428.9 452.8H440.1V464.0H428.9zM451.2 464.0H462.4V475.2H451.2zM384.3 531.3H395.4V542.5H384.3zM507.1 542.5H518.2V553.7H507.1zM194.5 564.9H205.6V576.1H194.5zM373.1 564.9H384.3V576.1H373.1zM328.4 598.6H339.6V609.8H328.4zM172.1 609.8H183.3V621.0H172.1zM205.6 609.8H216.8V621.0H205.6zM149.8 632.2H161.0V643.3H149.8zM239.1 643.3H250.3V654.5H239.1zM462.4 643.3H473.6V654.5H462.4zM495.9 665.6H507.1V676.7H495.9zM428.9 676.7H440.1V687.8H428.9zM473.6 676.7H484.7V687.8H473.6zM339.6 687.8H350.8V699.0H339.6zM239.1 699.0H250.3V710.1H239.1zM384.3 710.1H395.4V721.2H384.3zM272.6 721.2H283.8V732.3H272.6zM205.6 732.3H216.8V743.5H205.6zM283.8 732.3H294.9V743.5H283.8zM361.9 732.3H373.1V743.5H361.9zM507.1 743.5H518.2V754.6H507.1zM172.1 754.6H183.3V765.7H172.1zM194.5 754.6H205.6V765.7H194.5zM216.8 754.6H228.0V765.7H216.8zM250.3 765.7H261.4V776.8H250.3zM428.9 765.7H440.1V776.8H428.9z"/>
<path fill="#f4f9fb" d="M350.8 441.6H361.9V452.8H350.8zM373.1 441.6H384.3V452.8H373.1zM473.6 441.6H484.7V452.8H473.6zM495.9 441.6H507.1V452.8H495.9zM294.9 452.8H306.1V464.0H294.9zM462.4 452.8H473.6V464.0H462.4zM428.9 464.0H440.1V475.2H428.9zM484.7 464.0H495.9V475.2H484.7zM317.3 486.4H328.4V497.7H317.3zM384.3 486.4H395.4V497.7H384.3zM361.9 497.7H373.1V508.9H361.9zM440.1 508.9H451.2V520.1H440.1zM384.3 520.1H395.4V531.3H384.3zM339.6 531.3H350.8V542.5H339.6zM451.2 531.3H462.4V542.5H451.2zM339.6 542.5H350.8V553.7H339.6zM417.8 542.5H428.9V553.7H417.8zM495.9 542.5H507.1V553.7H495.9zM473.6 553.7H484.7V564.9H473.6zM484.7 564.9H495.9V576.1H484.7zM361.9 576.1H373.1V587.4H361.9zM507.1 576.1H518.2V587.4H507.1zM428.9 587.4H440.1V598.6H428.9zM462.4 587.4H473.6V598.6H462.4zM161.0 609.8H172.1V621.0H161.0z"/>
<path fill="#f7fafc" d="M361.9 441.6H373.1V452.8H361.9zM484.7 441.6H495.9V452.8H484.7zM339.6 452.8H350.8V464.0H339.6zM507.1 452.8H518.2V464.0H507.1zM395.4 464.0H406.6V475.2H395.4zM317.3 497.7H328.4V508.9H317.3zM395.4 497.7H406.6V508.9H395.4zM473.6 497.7H484.7V508.9H473.6zM451.2 508.9H462.4V520.1H451.2zM462.4 520.1H473.6V531.3H462.4zM395.4 531.3H406.6V542.5H395.4zM507.1 531.3H518.2V542.5H507.1zM350.8 542.5H361.9V553.7H350.8zM194.5 553.7H205.6V564.9H194.5zM495.9 553.7H507.1V564.9H495.9zM395.4 564.9H406.6V576.1H395.4zM317.3 576.1H328.4V587.4H317.3zM462.4 576.1H473.6V587.4H462.4zM361.9 598.6H384.3V609.8H361.9zM384.3 598.6H406.6V609.8H384.3zM406.6 621.0H417.8V632.2H406.6zM440.1 621.0H451.2V632.2H440.1zM473.6 621.0H484.7V632.2H473.6zM507.1 621.0H518.2V632.2H507.1zM183.3 654.5H194.5V665.6H183.3zM272.6 654.5H283.8V665.6H272.6zM417.8 654.5H428.9V665.6H417.8zM294.9 665.6H306.1V676.7H294.9zM473.6 665.6H484.7V676.7H473.6zM261.4 676.7H272.6V687.8H261.4zM306.1 676.7H317.3V687.8H306.1zM205.6 687.8H216.8V699.0H205.6zM283.8 687.8H294.9V699.0H283.8zM361.9 687.8H373.1V699.0H361.9zM495.9 687.8H507.1V699.0H495.9zM228.0 699.0H239.1V710.1H228.0zM339.6 699.0H350.8V710.1H339.6zM440.1 710.1H451.2V721.2H440.1zM149.8 721.2H161.0V732.3H149.8zM294.9 721.2H306.1V732.3H294.9zM462.4 721.2H473.6V732.3H462.4zM272.6 732.3H283.8V743.5H272.6zM350.8 732.3H361.9V743.5H350.8zM428.9 732.3H440.1V743.5H428.9zM507.1 732.3H518.2V743.5H507.1zM194.5 743.5H205.6V754.6H194.5zM261.4 743.5H272.6V754.6H261.4zM451.2 743.5H462.4V754.6H451.2zM361.9 765.7H373.1V776.8H361.9zM484.7 765.7H495.9V776.8H484.7z"/>
<path fill="#f6fafc" d="M384.3 441.6H395.4V452.8H384.3zM406.6 441.6H417.8V452.8H406.6zM507.1 441.6H518.2V452.8H507.1zM406.6 452.8H417.8V464.0H406.6zM417.8 452.8H428.9V464.0H417.8zM484.7 452.8H495.9V464.0H484.7zM495.9 452.8H507.1V464.0H495.9zM339.6 464.0H350.8V475.2H339.6zM350.8 464.0H361.9V475.2H350.8zM406.6 464.0H417.8V475.2H406.6zM462.4 464.0H473.6V475.2H462.4zM317.3 475.2H328.4V486.4H317.3zM361.9 475.2H373.1V486.4H361.9zM384.3 475.2H395.4V486.4H384.3zM406.6 475.2H417.8V486.4H406.6zM428.9 475.2H440.1V486.4H428.9zM451.2 475.2H462.4V486.4H451.2zM473.6 475.2H484.7V486.4H473.6zM495.9 475.2H507.1V486.4H495.9zM216.8 486.4H228.0V497.7H216.8zM339.6 486.4H350.8V497.7H339.6zM406.6 486.4H417.8V497.7H406.6zM473.6 486.4H484.7V497.7H473.6zM406.6 497.7H417.8V508.9H406.6zM484.7 497.7H495.9V508.9H484.7zM384.3 508.9H395.4V520.1H384.3zM406.6 508.9H417.8V520.1H406.6zM428.9 508.9H440.1V520.1H428.9zM507.1 520.1H518.2V531.3H507.1zM406.6 531.3H417.8V542.5H406.6zM417.8 531.3H428.9V542.5H417.8zM172.1 542.5H183.3V553.7H172.1zM194.5 542.5H205.6V553.7H194.5zM406.6 542.5H417.8V553.7H406.6zM484.7 542.5H495.9V553.7H484.7zM317.3 553.7H328.4V564.9H317.3zM361.9 553.7H373.1V564.9H361.9zM406.6 553.7H417.8V564.9H406.6zM451.2 553.7H462.4V564.9H451.2zM250.3 564.9H261.4V576.1H250.3zM406.6 564.9H417.8V576.1H406.6zM417.8 564.9H428.9V576.1H417.8zM428.9 564.9H440.1V576.1H428.9zM440.1 576.1H451.2V587.4H440.1zM495.9 576.1H507.1V587.4H495.9zM250.3 587.4H261.4V598.6H250.3zM406.6 587.4H417.8V598.6H406.6zM440.1 587.4H451.2V598.6H440.1zM406.6 598.6H428.9V609.8H406.6zM428.9 598.6H451.2V609.8H428.9zM451.2 598.6H473.6V609.8H451.2zM473.6 598.6H495.9V609.8H473.6zM495.9 598.6H518.2V609.8H495.9zM149.8 609.8H161.0V621.0H149.8zM183.3 609.8H194.5V621.0H183.3zM339.6 621.0H350.8V632.2H339.6zM373.1 621.0H384.3V632.2H373.1zM495.9 632.2H518.2V643.3H495.9zM250.3 643.3H261.4V654.5H250.3zM361.9 643.3H373.1V654.5H361.9zM395.4 643.3H406.6V654.5H395.4zM473.6 643.3H484.7V654.5H473.6zM507.1 643.3H518.2V654.5H507.1zM149.8 654.5H161.0V665.6H149.8zM205.6 654.5H216.8V665.6H205.6zM239.1 654.5H250.3V665.6H239.1zM294.9 654.5H306.1V665.6H294.9zM328.4 654.5H339.6V665.6H328.4zM384.3 654.5H395.4V665.6H384.3zM440.1 654.5H451.2V665.6H440.1zM473.6 654.5H484.7V665.6H473.6zM283.8 665.6H294.9V676.7H283.8zM428.9 665.6H440.1V676.7H428.9zM440.1 665.6H451.2V676.7H440.1zM183.3 676.7H194.5V687.8H183.3zM228.0 676.7H239.1V687.8H228.0zM350.8 676.7H361.9V687.8H350.8zM395.4 676.7H406.6V687.8H395.4zM440.1 676.7H451.2V687.8H440.1zM484.7 676.7H495.9V687.8H484.7zM149.8 687.8H161.0V699.0H149.8zM172.1 687.8H183.3V699.0H172.1zM228.0 687.8H239.1V699.0H228.0zM306.1 687.8H317.3V699.0H306.1zM440.1 687.8H451.2V699.0H440.1zM462.4 687.8H473.6V699.0H462.4zM205.6 699.0H216.8V710.1H205.6zM216.8 699.0H228.0V710.1H216.8zM328.4 699.0H339.6V710.1H328.4zM239.1 710.1H250.3V721.2H239.1zM294.9 710.1H306.1V721.2H294.9zM350.8 710.1H361.9V721.2H350.8zM395.4 710.1H406.6V721.2H395.4zM451.2 710.1H462.4V721.2H451.2zM172.1 721.2H183.3V732.3H172.1zM194.5 721.2H205.6V732.3H194.5zM216.8 721.2H228.0V732.3H216.8zM339.6 721.2H350.8V732.3H339.6zM361.9 721.2H373.1V732.3H361.9zM384.3 721.2H395.4V732.3H384.3zM484.7 721.2H495.9V732.3H484.7zM183.3 732.3H194.5V743.5H183.3zM194.5 732.3H205.6V743.5H194.5zM261.4 732.3H272.6V743.5H261.4zM339.6 732.3H350.8V743.5H339.6zM417.8 732.3H428.9V743.5H417.8zM495.9 732.3H507.1V743.5H495.9zM205.6 743.5H216.8V754.6H205.6zM272.6 743.5H283.8V754.6H272.6zM328.4 743.5H339.6V754.6H328.4zM339.6 743.5H350.8V754.6H339.6zM395.4 743.5H406.6V754.6H395.4zM462.4 743.5H473.6V754.6H462.4zM495.9 754.6H507.1V765.7H495.9zM228.0 765.7H239.1V776.8H228.0zM239.1 765.7H250.3V776.8H239.1zM350.8 765.7H361.9V776.8H350.8zM417.8 765.7H428.9V776.8H417.8z"/>
<path fill="#f3f8fb" d="M395.4 441.6H406.6V452.8H395.4zM194.5 452.8H205.6V464.0H194.5zM283.8 452.8H294.9V464.0H283.8zM361.9 452.8H373.1V464.0H361.9zM440.1 452.8H451.2V464.0H440.1zM451.2 452.8H462.4V464.0H451.2zM440.1 464.0H451.2V475.2H440.1zM495.9 464.0H507.1V475.2H495.9zM373.1 475.2H384.3V486.4H373.1zM395.4 475.2H406.6V486.4H395.4zM440.1 475.2H451.2V486.4H440.1zM462.4 475.2H473.6V486.4H462.4zM484.7 475.2H495.9V486.4H484.7zM507.1 475.2H518.2V486.4H507.1zM373.1 486.4H384.3V497.7H373.1zM440.1 486.4H451.2V497.7H440.1zM495.9 486.4H507.1V497.7H495.9zM373.1 497.7H384.3V508.9H373.1zM451.2 497.7H462.4V508.9H451.2zM373.1 508.9H384.3V520.1H373.1zM395.4 508.9H406.6V520.1H395.4zM361.9 531.3H373.1V542.5H361.9zM462.4 531.3H473.6V542.5H462.4zM473.6 531.3H484.7V542.5H473.6zM317.3 542.5H328.4V553.7H317.3zM395.4 542.5H406.6V553.7H395.4zM473.6 542.5H484.7V553.7H473.6zM250.3 553.7H261.4V564.9H250.3zM339.6 553.7H350.8V564.9H339.6zM507.1 553.7H518.2V564.9H507.1zM172.1 564.9H183.3V576.1H172.1zM339.6 564.9H350.8V576.1H339.6zM350.8 564.9H361.9V576.1H350.8zM507.1 564.9H518.2V576.1H507.1zM339.6 576.1H350.8V587.4H339.6zM395.4 576.1H406.6V587.4H395.4zM384.3 587.4H395.4V598.6H384.3zM495.9 587.4H507.1V598.6H495.9zM183.3 598.6H205.6V609.8H183.3zM205.6 598.6H228.0V609.8H205.6zM228.0 598.6H250.3V609.8H228.0zM250.3 598.6H272.6V609.8H250.3zM317.3 621.0H328.4V632.2H317.3zM384.3 621.0H395.4V632.2H384.3zM451.2 621.0H462.4V632.2H451.2z"/>
<path fill="#f5fafc" d="M428.9 441.6H440.1V452.8H428.9zM473.6 464.0H484.7V475.2H473.6zM462.4 486.4H473.6V497.7H462.4zM339.6 497.7H350.8V508.9H339.6zM417.8 497.7H428.9V508.9H417.8zM361.9 508.9H373.1V520.1H361.9zM451.2 520.1H462.4V531.3H451.2zM317.3 531.3H328.4V542.5H317.3zM384.3 542.5H395.4V553.7H384.3zM484.7 553.7H495.9V564.9H484.7zM440.1 564.9H451.2V576.1H440.1zM361.9 587.4H373.1V598.6H361.9zM473.6 587.4H484.7V598.6H473.6zM484.7 632.2H495.9V643.3H484.7zM272.6 676.7H283.8V687.8H272.6zM250.3 687.8H261.4V699.0H250.3zM306.1 699.0H317.3V710.1H306.1zM149.8 743.5H161.0V754.6H149.8zM451.2 754.6H462.4V765.7H451.2zM473.6 754.6H484.7V765.7H473.6z"/>
<path fill="#f5f9fc" d="M451.2 441.6H462.4V452.8H451.2zM395.4 452.8H406.6V464.0H395.4zM473.6 452.8H484.7V464.0H473.6zM417.8 464.0H428.9V475.2H417.8zM395.4 486.4H406.6V497.7H395.4zM495.9 497.7H507.1V508.9H495.9zM339.6 508.9H350.8V520.1H339.6zM507.1 508.9H518.2V520.1H507.1zM395.4 520.1H406.6V531.3H395.4zM495.9 520.1H507.1V531.3H495.9zM428.9 531.3H440.1V542.5H428.9zM361.9 542.5H373.1V553.7H361.9zM440.1 542.5H451.2V553.7H440.1zM350.8 553.7H361.9V564.9H350.8zM395.4 553.7H406.6V564.9H395.4zM440.1 553.7H451.2V564.9H440.1zM451.2 564.9H462.4V576.1H451.2zM384.3 576.1H395.4V587.4H384.3zM473.6 576.1H484.7V587.4H473.6zM395.4 587.4H406.6V598.6H395.4zM507.1 587.4H518.2V598.6H507.1zM361.9 621.0H373.1V632.2H361.9zM395.4 621.0H406.6V632.2H395.4zM428.9 621.0H440.1V632.2H428.9zM462.4 621.0H473.6V632.2H462.4z"/>
<path fill="#f7fbfc" d="M462.4 441.6H473.6V452.8H462.4zM484.7 486.4H495.9V497.7H484.7zM495.9 531.3H507.1V542.5H495.9zM428.9 542.5H440.1V553.7H428.9zM384.3 564.9H395.4V576.1H384.3zM373.1 576.1H384.3V587.4H373.1zM373.1 587.4H384.3V598.6H373.1zM339.6 598.6H361.9V609.8H339.6zM507.1 654.5H518.2V665.6H507.1zM306.1 665.6H317.3V676.7H306.1zM484.7 665.6H495.9V676.7H484.7zM172.1 676.7H183.3V687.8H172.1zM417.8 687.8H428.9V699.0H417.8zM451.2 699.0H462.4V710.1H451.2zM440.1 721.2H451.2V732.3H440.1zM384.3 743.5H395.4V754.6H384.3zM306.1 765.7H317.3V776.8H306.1z"/>
<path fill="#e2eef5" d="M183.3 452.8H194.5V464.0H183.3zM161.0 520.1H172.1V531.3H161.0z"/>
<path fill="#f4f9fc" d="M384.3 452.8H395.4V464.0H384.3zM361.9 464.0H373.1V475.2H361.9zM261.4 486.4H272.6V497.7H261.4zM451.2 486.4H462.4V497.7H451.2zM350.8 497.7H361.9V508.9H350.8zM428.9 497.7H440.1V508.9H428.9zM507.1 497.7H518.2V508.9H507.1zM317.3 508.9H328.4V520.1H317.3zM462.4 508.9H473.6V520.1H462.4zM440.1 531.3H451.2V542.5H440.1zM283.8 542.5H294.9V553.7H283.8zM473.6 564.9H484.7V576.1H473.6zM317.3 587.4H328.4V598.6H317.3z"/>
<path fill="#8ac0db" d="M529.4 452.8H540.5V464.0H529.4zM529.4 486.4H540.5V497.7H529.4zM529.4 497.7H540.5V508.9H529.4z"/>
<path fill="#e5f1f7" d="M228.0 464.0H239.1V475.2H228.0zM194.5 520.1H205.6V531.3H194.5zM205.6 576.1H216.8V587.4H205.6z"/>
<path fill="#e9f2f8" d="M328.4 464.0H339.6V475.2H328.4zM328.4 508.9H339.6V520.1H328.4z"/>
<path fill="#9bcae1" d="M529.4 464.0H540.5V475.2H529.4zM596.2 520.1H607.3V531.3H596.2zM607.3 531.3H618.4V542.5H607.3zM596.2 564.9H607.3V576.1H596.2z"/>
<path fill="#abd2e5" d="M540.5 464.0H551.7V475.2H540.5zM540.5 475.2H562.8V486.4H540.5zM551.7 486.4H573.9V497.7H551.7zM540.5 497.7H585.0V508.9H540.5zM529.4 520.1H596.2V531.3H529.4zM529.4 531.3H540.5V542.5H529.4zM551.7 531.3H573.9V542.5H551.7zM596.2 553.7H629.6V564.9H596.2zM607.3 564.9H629.6V576.1H607.3zM640.7 564.9H651.8V576.1H640.7zM573.9 576.1H585.0V587.4H573.9zM596.2 576.1H629.6V587.4H596.2zM573.9 587.4H585.0V598.6H573.9z"/>
<path fill="#d0e4f0" d="M149.8 475.2H161.0V486.4H149.8zM272.6 508.9H283.8V520.1H272.6z"/>
<path fill="#76b4d5" d="M529.4 475.2H540.5V486.4H529.4zM596.2 531.3H607.3V542.5H596.2zM663.0 587.4H674.1V598.6H663.0z"/>
<path fill="#dcebf4" d="M194.5 486.4H205.6V497.7H194.5zM283.8 520.1H294.9V531.3H283.8zM228.0 531.3H239.1V542.5H228.0zM216.8 553.7H228.0V564.9H216.8zM294.9 621.0H306.1V632.2H294.9zM495.9 788.0H507.1V799.1H495.9z"/>
<path fill="#eef5f9" d="M350.8 486.4H361.9V497.7H350.8zM417.8 486.4H428.9V497.7H417.8zM473.6 508.9H484.7V520.1H473.6zM361.9 520.1H373.1V531.3H361.9zM484.7 587.4H495.9V598.6H484.7zM294.9 643.3H306.1V654.5H294.9zM228.0 665.6H239.1V676.7H228.0zM239.1 665.6H250.3V676.7H239.1z"/>
<path fill="#bbdaea" d="M540.5 486.4H551.7V497.7H540.5zM573.9 531.3H596.2V542.5H573.9zM551.7 553.7H573.9V564.9H551.7zM529.4 576.1H540.5V587.4H529.4zM551.7 576.1H573.9V587.4H551.7zM640.7 576.1H651.8V587.4H640.7zM607.3 587.4H618.4V598.6H607.3zM663.0 598.6H685.2V609.8H663.0z"/>
<path fill="#dcebf3" d="M205.6 497.7H216.8V508.9H205.6z"/>
<path fill="#a3cde3" d="M216.8 508.9H228.0V520.1H216.8z"/>
<path fill="#cee4ef" d="M228.0 508.9H239.1V520.1H228.0z"/>
<path fill="#c3deec" d="M239.1 508.9H250.3V520.1H239.1z"/>
<path fill="#dfedf4" d="M283.8 508.9H294.9V520.1H283.8zM239.1 553.7H250.3V564.9H239.1zM216.8 564.9H228.0V576.1H216.8zM228.0 576.1H239.1V587.4H228.0zM507.1 788.0H518.2V799.1H507.1z"/>
<path fill="#cbe2ee" d="M529.4 508.9H540.5V520.1H529.4zM562.8 508.9H573.9V520.1H562.8zM540.5 531.3H551.7V542.5H540.5zM596.2 542.5H618.4V553.7H596.2zM529.4 553.7H551.7V564.9H529.4zM585.0 553.7H596.2V564.9H585.0zM529.4 564.9H573.9V576.1H529.4zM585.0 564.9H596.2V576.1H585.0zM540.5 576.1H551.7V587.4H540.5zM585.0 576.1H596.2V587.4H585.0zM651.8 576.1H663.0V587.4H651.8zM529.4 587.4H540.5V598.6H529.4zM551.7 587.4H573.9V598.6H551.7zM596.2 587.4H607.3V598.6H596.2zM618.4 587.4H629.6V598.6H618.4zM640.7 587.4H663.0V598.6H640.7z"/>
<path fill="#cee3ef" d="M216.8 520.1H228.0V531.3H216.8z"/>
<path fill="#cfe4f0" d="M228.0 520.1H239.1V531.3H228.0z"/>
<path fill="#dfedf5" d="M261.4 520.1H272.6V531.3H261.4z"/>
<path fill="#dbeaf3" d="M272.6 520.1H283.8V531.3H272.6z"/>
<path fill="#ecf4f9" d="M350.8 520.1H361.9V531.3H350.8zM462.4 542.5H473.6V553.7H462.4zM495.9 621.0H507.1V632.2H495.9zM306.1 643.3H317.3V654.5H306.1zM339.6 643.3H350.8V654.5H339.6zM417.8 643.3H428.9V654.5H417.8zM239.1 687.8H250.3V699.0H239.1zM484.7 699.0H495.9V710.1H484.7zM451.2 732.3H462.4V743.5H451.2z"/>
<path fill="#e9f3f8" d="M373.1 520.1H384.3V531.3H373.1zM473.6 520.1H484.7V531.3H473.6zM417.8 587.4H428.9V598.6H417.8zM149.8 621.0H161.0V632.2H149.8zM216.8 621.0H228.0V632.2H216.8zM250.3 621.0H261.4V632.2H250.3zM250.3 665.6H261.4V676.7H250.3zM261.4 665.6H272.6V676.7H261.4zM384.3 687.8H395.4V699.0H384.3zM417.8 699.0H428.9V710.1H417.8zM428.9 699.0H440.1V710.1H428.9zM194.5 710.1H205.6V721.2H194.5zM507.1 721.2H518.2V732.3H507.1zM473.6 765.7H484.7V776.8H473.6zM518.2 810.2H529.4V823.6H518.2z"/>
<path fill="#eef6fa" d="M417.8 520.1H428.9V531.3H417.8zM328.4 553.7H339.6V564.9H328.4zM440.1 643.3H451.2V654.5H440.1z"/>
<path fill="#ebf4f8" d="M440.1 520.1H451.2V531.3H440.1zM417.8 576.1H428.9V587.4H417.8zM161.0 621.0H172.1V632.2H161.0zM194.5 621.0H205.6V632.2H194.5zM228.0 621.0H239.1V632.2H228.0zM261.4 621.0H272.6V632.2H261.4zM350.8 643.3H361.9V654.5H350.8zM361.9 654.5H373.1V665.6H361.9zM440.1 732.3H451.2V743.5H440.1zM373.1 765.7H384.3V776.8H373.1z"/>
<path fill="#b0d4e7" d="M239.1 531.3H250.3V542.5H239.1z"/>
<path fill="#daeaf3" d="M261.4 531.3H272.6V542.5H261.4zM272.6 531.3H283.8V542.5H272.6zM194.5 576.1H205.6V587.4H194.5zM194.5 587.4H205.6V598.6H194.5zM183.3 621.0H194.5V632.2H183.3zM283.8 621.0H294.9V632.2H283.8z"/>
<path fill="#d2e6f0" d="M250.3 542.5H261.4V553.7H250.3z"/>
<path fill="#c1ddeb" d="M261.4 553.7H272.6V564.9H261.4z"/>
<path fill="#deecf4" d="M272.6 553.7H283.8V564.9H272.6zM228.0 564.9H239.1V576.1H228.0zM239.1 564.9H250.3V576.1H239.1zM328.4 587.4H339.6V598.6H328.4zM239.1 621.0H250.3V632.2H239.1z"/>
<path fill="#c2ddec" d="M272.6 564.9H283.8V576.1H272.6z"/>
<path fill="#cde3ef" d="M283.8 576.1H294.9V587.4H283.8z"/>
<path fill="#d2e5f0" d="M294.9 576.1H306.1V587.4H294.9z"/>
<path fill="#ebf3f8" d="M350.8 587.4H361.9V598.6H350.8zM283.8 710.1H294.9V721.2H283.8z"/>
<path fill="#92c5de" d="M674.1 621.0H685.2V632.2H674.1zM707.5 643.3H718.6V654.5H707.5z"/>
<path fill="#f9fbfd" d="M239.1 632.2H261.4V643.3H239.1zM261.4 632.2H283.8V643.3H261.4zM194.5 643.3H205.6V654.5H194.5zM339.6 654.5H350.8V665.6H339.6zM484.7 654.5H495.9V665.6H484.7zM172.1 665.6H183.3V676.7H172.1zM350.8 665.6H361.9V676.7H350.8zM161.0 676.7H172.1V687.8H161.0zM462.4 676.7H473.6V687.8H462.4zM507.1 676.7H518.2V687.8H507.1zM161.0 687.8H172.1V699.0H161.0zM451.2 687.8H462.4V699.0H451.2zM149.8 699.0H161.0V710.1H149.8zM261.4 699.0H272.6V710.1H261.4zM373.1 699.0H384.3V710.1H373.1zM216.8 710.1H228.0V721.2H216.8zM373.1 710.1H384.3V721.2H373.1zM205.6 721.2H216.8V732.3H205.6zM350.8 721.2H361.9V732.3H350.8zM373.1 721.2H384.3V732.3H373.1zM239.1 743.5H250.3V754.6H239.1zM428.9 743.5H440.1V754.6H428.9zM495.9 743.5H507.1V754.6H495.9zM261.4 765.7H272.6V776.8H261.4zM384.3 765.7H395.4V776.8H384.3zM406.6 776.8H417.8V788.0H406.6zM406.6 788.0H417.8V799.1H406.6z"/>
<path fill="#f9fcfd" d="M283.8 632.2H306.1V643.3H283.8zM306.1 632.2H317.3V643.3H306.1zM328.4 632.2H350.8V643.3H328.4zM228.0 643.3H239.1V654.5H228.0zM451.2 643.3H462.4V654.5H451.2zM194.5 654.5H205.6V665.6H194.5zM283.8 654.5H294.9V665.6H283.8zM373.1 654.5H384.3V665.6H373.1zM428.9 654.5H440.1V665.6H428.9zM183.3 665.6H194.5V676.7H183.3zM194.5 665.6H205.6V676.7H194.5zM361.9 665.6H373.1V676.7H361.9zM283.8 676.7H294.9V687.8H283.8zM328.4 676.7H339.6V687.8H328.4zM373.1 676.7H384.3V687.8H373.1zM417.8 676.7H428.9V687.8H417.8zM216.8 687.8H228.0V699.0H216.8zM294.9 687.8H306.1V699.0H294.9zM373.1 687.8H384.3V699.0H373.1zM507.1 687.8H518.2V699.0H507.1zM161.0 699.0H172.1V710.1H161.0zM272.6 699.0H283.8V710.1H272.6zM384.3 699.0H395.4V710.1H384.3zM495.9 699.0H507.1V710.1H495.9zM161.0 710.1H172.1V721.2H161.0zM261.4 710.1H272.6V721.2H261.4zM473.6 710.1H484.7V721.2H473.6zM161.0 721.2H172.1V732.3H161.0zM183.3 721.2H194.5V732.3H183.3zM328.4 721.2H339.6V732.3H328.4zM473.6 721.2H484.7V732.3H473.6zM495.9 721.2H507.1V732.3H495.9zM149.8 732.3H161.0V743.5H149.8zM228.0 732.3H239.1V743.5H228.0zM306.1 732.3H317.3V743.5H306.1zM384.3 732.3H395.4V743.5H384.3zM462.4 732.3H473.6V743.5H462.4zM172.1 743.5H183.3V754.6H172.1zM294.9 743.5H306.1V754.6H294.9zM361.9 743.5H373.1V754.6H361.9zM484.7 743.5H495.9V754.6H484.7zM328.4 765.7H339.6V776.8H328.4zM451.2 765.7H462.4V776.8H451.2zM507.1 765.7H518.2V776.8H507.1zM228.0 776.8H239.1V788.0H228.0zM395.4 776.8H406.6V788.0H395.4zM484.7 776.8H495.9V788.0H484.7zM283.8 810.2H294.9V823.6H283.8z"/>
<path fill="#fafcfd" d="M350.8 632.2H373.1V643.3H350.8zM373.1 632.2H395.4V643.3H373.1zM395.4 632.2H417.8V643.3H395.4zM183.3 643.3H194.5V654.5H183.3zM261.4 643.3H272.6V654.5H261.4zM373.1 643.3H384.3V654.5H373.1zM406.6 643.3H417.8V654.5H406.6zM484.7 643.3H495.9V654.5H484.7zM172.1 654.5H183.3V665.6H172.1zM228.0 654.5H239.1V665.6H228.0zM462.4 654.5H473.6V665.6H462.4zM205.6 665.6H216.8V676.7H205.6zM384.3 665.6H395.4V676.7H384.3zM149.8 676.7H161.0V687.8H149.8zM194.5 676.7H205.6V687.8H194.5zM239.1 676.7H250.3V687.8H239.1zM451.2 676.7H462.4V687.8H451.2zM495.9 676.7H507.1V687.8H495.9zM272.6 687.8H283.8V699.0H272.6zM350.8 687.8H361.9V699.0H350.8zM428.9 687.8H440.1V699.0H428.9zM484.7 687.8H495.9V699.0H484.7zM172.1 699.0H183.3V710.1H172.1zM183.3 699.0H194.5V710.1H183.3zM283.8 699.0H294.9V710.1H283.8zM395.4 699.0H406.6V710.1H395.4zM507.1 699.0H518.2V710.1H507.1zM205.6 710.1H216.8V721.2H205.6zM361.9 710.1H373.1V721.2H361.9zM462.4 710.1H473.6V721.2H462.4zM283.8 721.2H294.9V732.3H283.8zM306.1 721.2H317.3V732.3H306.1zM428.9 721.2H440.1V732.3H428.9zM161.0 732.3H172.1V743.5H161.0zM239.1 732.3H250.3V743.5H239.1zM395.4 732.3H406.6V743.5H395.4zM473.6 732.3H484.7V743.5H473.6zM161.0 743.5H172.1V754.6H161.0zM228.0 743.5H239.1V754.6H228.0zM350.8 743.5H361.9V754.6H350.8zM417.8 743.5H428.9V754.6H417.8zM161.0 754.6H172.1V765.7H161.0zM183.3 754.6H194.5V765.7H183.3zM216.8 765.7H228.0V776.8H216.8zM272.6 765.7H283.8V776.8H272.6zM339.6 765.7H350.8V776.8H339.6zM395.4 765.7H406.6V776.8H395.4zM306.1 776.8H317.3V788.0H306.1zM473.6 776.8H484.7V788.0H473.6zM328.4 788.0H339.6V799.1H328.4z"/>
<path fill="#fafcfe" d="M417.8 632.2H440.1V643.3H417.8zM406.6 654.5H417.8V665.6H406.6zM406.6 665.6H417.8V676.7H406.6zM406.6 676.7H417.8V687.8H406.6zM194.5 687.8H205.6V699.0H194.5zM406.6 687.8H417.8V699.0H406.6zM294.9 699.0H306.1V710.1H294.9zM149.8 710.1H161.0V721.2H149.8zM306.1 710.1H317.3V721.2H306.1zM261.4 721.2H272.6V732.3H261.4zM283.8 743.5H294.9V754.6H283.8zM473.6 743.5H484.7V754.6H473.6zM205.6 754.6H216.8V765.7H205.6zM228.0 754.6H239.1V765.7H228.0zM250.3 754.6H261.4V765.7H250.3zM272.6 754.6H283.8V765.7H272.6zM161.0 765.7H172.1V776.8H161.0zM462.4 765.7H473.6V776.8H462.4zM216.8 776.8H228.0V788.0H216.8zM384.3 776.8H395.4V788.0H384.3z"/>
<path fill="#fbfdfe" d="M440.1 632.2H462.4V643.3H440.1zM462.4 632.2H484.7V643.3H462.4zM216.8 643.3H228.0V654.5H216.8zM328.4 643.3H339.6V654.5H328.4zM261.4 654.5H272.6V665.6H261.4zM350.8 654.5H361.9V665.6H350.8zM495.9 654.5H507.1V665.6H495.9zM417.8 665.6H428.9V676.7H417.8zM361.9 676.7H373.1V687.8H361.9zM328.4 687.8H339.6V699.0H328.4zM194.5 699.0H205.6V710.1H194.5zM250.3 710.1H261.4V721.2H250.3zM406.6 710.1H417.8V721.2H406.6zM507.1 710.1H518.2V721.2H507.1zM239.1 721.2H250.3V732.3H239.1zM406.6 721.2H417.8V732.3H406.6zM172.1 732.3H183.3V743.5H172.1zM250.3 732.3H261.4V743.5H250.3zM328.4 732.3H339.6V743.5H328.4zM406.6 732.3H417.8V743.5H406.6zM484.7 732.3H495.9V743.5H484.7zM216.8 743.5H228.0V754.6H216.8zM406.6 743.5H417.8V754.6H406.6zM294.9 754.6H306.1V765.7H294.9zM339.6 754.6H350.8V765.7H339.6zM361.9 754.6H373.1V765.7H361.9zM384.3 754.6H395.4V765.7H384.3zM406.6 754.6H417.8V765.7H406.6zM428.9 754.6H440.1V765.7H428.9zM406.6 765.7H417.8V776.8H406.6zM373.1 776.8H384.3V788.0H373.1zM451.2 776.8H462.4V788.0H451.2zM462.4 776.8H473.6V788.0H462.4zM250.3 788.0H261.4V799.1H250.3z"/>
<path fill="#b3d6e7" d="M373.1 665.6H384.3V676.7H373.1z"/>
<path fill="#fefeff" d="M161.0 776.8H172.1V788.0H161.0zM250.3 776.8H261.4V788.0H250.3zM328.4 776.8H339.6V788.0H328.4zM417.8 776.8H428.9V788.0H417.8zM495.9 776.8H507.1V788.0H495.9zM384.3 788.0H395.4V799.1H384.3z"/>
<path fill="#fdfefe" d="M172.1 776.8H183.3V788.0H172.1zM261.4 776.8H272.6V788.0H261.4zM339.6 776.8H350.8V788.0H339.6zM428.9 776.8H440.1V788.0H428.9zM507.1 776.8H518.2V788.0H507.1zM339.6 788.0H350.8V799.1H339.6zM361.9 788.0H373.1V799.1H361.9zM462.4 788.0H473.6V799.1H462.4zM484.7 788.0H495.9V799.1H484.7zM428.9 810.2H440.1V823.6H428.9z"/>
<path fill="#fcfdfe" d="M194.5 776.8H205.6V788.0H194.5zM272.6 776.8H283.8V788.0H272.6zM283.8 776.8H294.9V788.0H283.8zM361.9 776.8H373.1V788.0H361.9zM440.1 776.8H451.2V788.0H440.1zM172.1 788.0H183.3V799.1H172.1zM417.8 788.0H428.9V799.1H417.8z"/>
<path fill="#fcfefe" d="M350.8 776.8H361.9V788.0H350.8zM440.1 788.0H451.2V799.1H440.1z"/>
<path fill="#feffff" d="M161.0 788.0H172.1V799.1H161.0zM306.1 799.1H317.3V810.2H306.1z"/>
</g>
<!-- diagonal braces -->
<path class="br" d="M151 45.2Q178 19 201.4 0.8L571.6 370.2Q573.2 371.8 571.4 373.4L525.2 418.2"/>
<path class="br" d="M525.2 418.6L570.6 376Q573.4 373.2 576.4 375.6L951.4 752.2Q930 774 909.2 801.6"/>
<!-- left braces -->
<path class="br" d="M140.5 62.4Q105 62.6 76 65.2Q70 65.8 69.8 69.5L69.8 428.6Q69.8 430.2 71.4 430.6L84 434.6L141.2 435.4"/>
<path class="br" d="M141.2 435.8L84 436.4L71.4 439.6Q69.8 440 69.8 441.6L69.8 814Q69.8 815.4 71.4 815.7Q100 820 139.5 820.6"/>
<!-- labels -->
<g class="q">
<text x="0.3" y="89.7">Q1.1</text>
<text x="0.3" y="432.8">Q5.5</text>
<text x="0.3" y="459.6">Q1.1</text>
<text x="0.3" y="825.4">Q5.5</text>
</g>
<g class="lab">
<text x="346.4" y="213.4">Informant MBI-C</text>
<text x="679" y="553.3">Self-report MBI-C</text>
<text transform="translate(34.2 345) rotate(-90)" font-size="28.9">Informant MBI-C</text>
<text transform="translate(34.3 749.6) rotate(-90)" letter-spacing="1.05">Self-report MBI-C</text>
</g>
<!-- colour bar -->
<rect x="150.9" y="836.6" width="756.9" height="28.2" fill="url(#cb)" stroke="#000" stroke-width="1.9"/>
<g stroke="#000" stroke-width="1.9"><line x1="151.0" y1="865" x2="151.0" y2="873" /><line x1="226.7" y1="865" x2="226.7" y2="873" /><line x1="302.3" y1="865" x2="302.3" y2="873" /><line x1="378.0" y1="865" x2="378.0" y2="873" /><line x1="453.6" y1="865" x2="453.6" y2="873" /><line x1="529.2" y1="865" x2="529.2" y2="873" /><line x1="604.9" y1="865" x2="604.9" y2="873" /><line x1="680.6" y1="865" x2="680.6" y2="873" /><line x1="756.2" y1="865" x2="756.2" y2="873" /><line x1="831.9" y1="865" x2="831.9" y2="873" /><line x1="907.5" y1="865" x2="907.5" y2="873" /></g>
<g class="tick"><text x="151.0" y="917" text-anchor="middle">–1</text><text x="226.7" y="917" text-anchor="middle">–0.8</text><text x="302.3" y="917" text-anchor="middle">–0.6</text><text x="378.0" y="917" text-anchor="middle">–0.4</text><text x="453.6" y="917" text-anchor="middle">–0.2</text><text x="529.2" y="917" text-anchor="middle">0</text><text x="604.9" y="917" text-anchor="middle">0.2</text><text x="680.6" y="917" text-anchor="middle">0.4</text><text x="756.2" y="917" text-anchor="middle">0.6</text><text x="831.9" y="917" text-anchor="middle">0.8</text><text x="907.5" y="917" text-anchor="middle">1</text></g>
</svg>
</body></html>
